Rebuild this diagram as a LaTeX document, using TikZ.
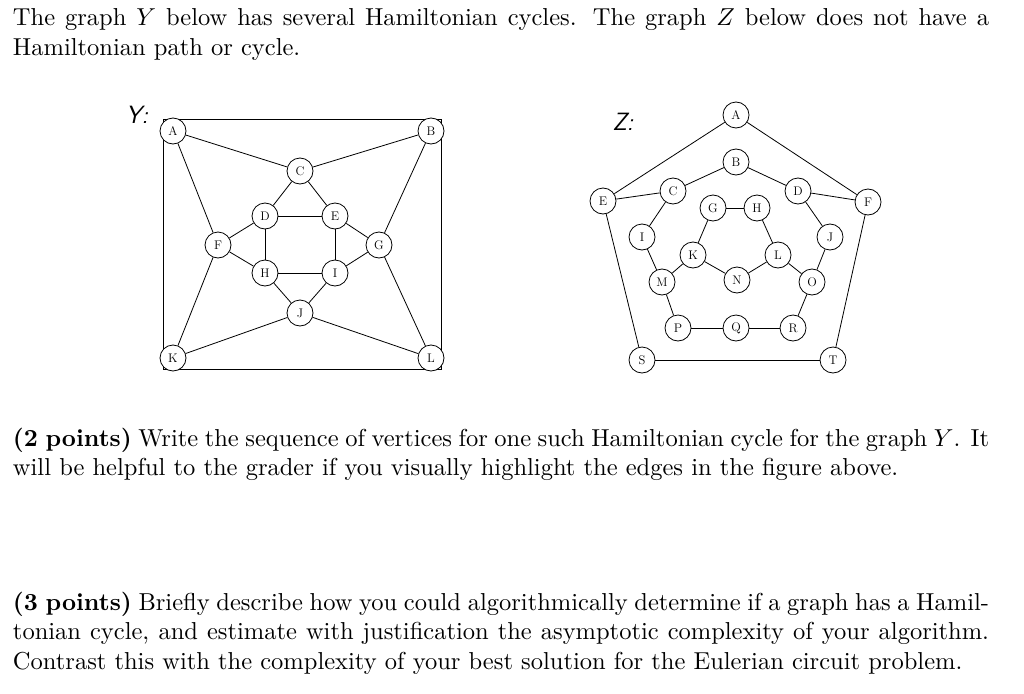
\documentclass[tikz,border=0pt]{standalone}
\begin{document}
\begin{tikzpicture}[x=1pt,y=-1pt,line width=0.8pt,
 v/.style={circle,draw,minimum size=26pt,inner sep=0pt,font=\fontsize{12.5}{12.5}\selectfont,fill=white},
 para/.style={anchor=north west,inner sep=0pt,scale=2.45,text width=398.4pt,align=justify,font=\fontsize{10}{12.04}\selectfont\sloppy},
 lbl/.style={font=\fontsize{25}{25}\selectfont\sffamily\itshape}]
\useasboundingbox (0,0) rectangle (1024,693);
\node[para] (t1) at (12,8) {The graph $Y$ below has several Hamiltonian cycles. The graph $Z$ below does not have a\linebreak Hamiltonian path or cycle.};
\node[para] (t2) at (12,427) {\textbf{(2 points)} Write the sequence of vertices for one such Hamiltonian cycle for the graph $Y$. It\linebreak will be helpful to the grader if you visually highlight the edges in the figure above.};
\node[para] (t3) at (12,591) {\textbf{(3 points)} Briefly describe how you could algorithmically determine if a graph has a Hamil-\linebreak tonian cycle, and estimate with justification the asymptotic complexity of your algorithm.\linebreak Contrast this with the complexity of your best solution for the Eulerian circuit problem.};
% Graph Y
\node[lbl] (ly) at (137,115) {Y:};
\draw (163,119) rectangle (441,369);
\node[v] (A) at (173,131) {A};
\node[v] (B) at (431,131) {B};
\node[v] (C) at (300,171) {C};
\node[v] (D) at (265,216) {D};
\node[v] (E) at (335,216) {E};
\node[v] (F) at (218,245) {F};
\node[v] (G) at (379,245) {G};
\node[v] (H) at (265,273) {H};
\node[v] (I) at (335,273) {I};
\node[v] (J) at (300,313) {J};
\node[v] (K) at (173,358) {K};
\node[v] (L) at (431,358) {L};
\foreach \a/\b in {A/C,B/C,A/F,F/K,K/J,J/L,B/G,G/L,C/D,C/E,D/E,D/F,D/H,F/H,E/G,E/I,G/I,H/I,H/J,I/J}
  \draw (\a) -- (\b);
% Graph Z
\node[lbl] (lz) at (623,122) {Z:};
\node[v] (zA) at (736,115) {A};
\node[v] (zB) at (736,162) {B};
\node[v] (zC) at (673,191) {C};
\node[v] (zD) at (798,191) {D};
\node[v] (zE) at (603,201) {E};
\node[v] (zF) at (868,202) {F};
\node[v] (zG) at (713,208) {G};
\node[v] (zH) at (757,208) {H};
\node[v] (zI) at (642,237) {I};
\node[v] (zJ) at (830,237) {J};
\node[v] (zK) at (693,255) {K};
\node[v] (zL) at (778,255) {L};
\node[v] (zM) at (662,282) {M};
\node[v] (zN) at (737,280) {N};
\node[v] (zO) at (812,282) {O};
\node[v] (zP) at (678,328) {P};
\node[v] (zQ) at (736,328) {Q};
\node[v] (zR) at (793,328) {R};
\node[v] (zS) at (642,360) {S};
\node[v] (zT) at (833,360) {T};
\foreach \a/\b in {A/E,A/F,E/S,F/T,S/T,B/C,B/D,C/E,D/F,C/I,D/J,I/M,J/O,M/P,O/R,P/Q,Q/R,M/K,O/L,G/H,G/K,H/L,K/N,L/N}
  \draw (z\a) -- (z\b);
\end{tikzpicture}
\end{document}
